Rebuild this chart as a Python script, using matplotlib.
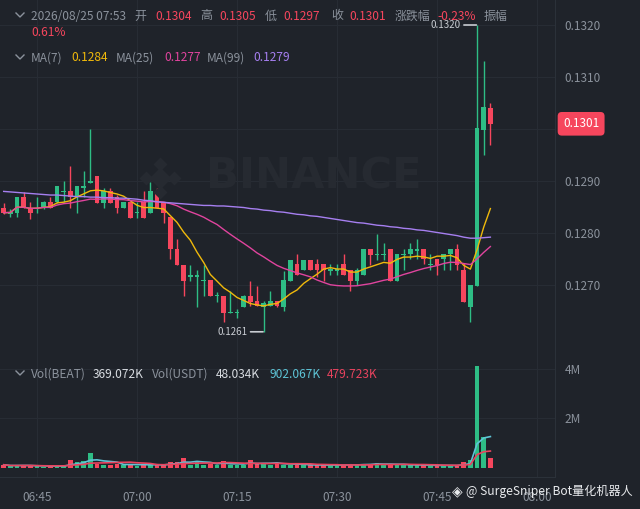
import numpy as np
import pandas as pd
import matplotlib
matplotlib.use('Agg')
import matplotlib.pyplot as plt
from matplotlib.lines import Line2D
from matplotlib.transforms import blended_transform_factory

plt.rcParams['font.family'] = ['Noto Sans CJK SC', 'DejaVu Sans']

# ---- data: 1 minute candles, 06:40 .. 07:53 (prices in units of 0.0001) ----
times = pd.date_range('2026-08-25 06:40', '2026-08-25 07:53', freq='1min')

opens = [1284.9, 1283.7, 1283.9, 1287.0, 1284.9, 1284.7, 1284.9, 1285.9, 1286.0, 1287.8,
         1288.0, 1286.9, 1288.7, 1289.7, 1291.0, 1285.8, 1288.0, 1287.0, 1284.9, 1286.0,
         1283.8, 1286.0, 1283.9, 1288.0, 1286.0, 1283.0, 1276.9, 1273.8, 1271.6, 1271.6,
         1270.8, 1271.0, 1267.8, 1267.9, 1264.6, 1264.6, 1265.8, 1267.9, 1266.9, 1265.8,
         1266.0, 1266.9, 1265.7, 1270.8, 1274.0, 1272.9, 1274.9, 1274.0, 1274.0, 1272.7,
         1272.7, 1274.0, 1272.9, 1270.8, 1271.9, 1277.0, 1275.7, 1275.7, 1277.0, 1270.8,
         1275.7, 1276.0, 1276.6, 1277.0, 1273.8, 1275.0, 1275.0, 1276.0, 1277.0, 1272.9,
         1265.8, 1269.8, 1299.8, 1304.0]
highs = [1285.8, 1284.7, 1287.0, 1287.9, 1285.9, 1286.9, 1286.2, 1287.0, 1289.0, 1290.0,
         1292.9, 1289.0, 1291.9, 1300.0, 1291.0, 1288.7, 1288.7, 1287.3, 1286.0, 1286.0,
         1286.0, 1288.0, 1289.9, 1288.6, 1286.0, 1283.0, 1278.8, 1273.8, 1273.8, 1272.9,
         1273.8, 1271.0, 1268.6, 1267.9, 1268.9, 1265.4, 1268.0, 1270.8, 1269.8, 1267.0,
         1268.9, 1266.9, 1272.6, 1274.9, 1276.0, 1274.9, 1274.9, 1275.0, 1274.0, 1274.0,
         1274.0, 1276.0, 1272.9, 1273.2, 1277.0, 1277.0, 1279.9, 1278.0, 1277.0, 1276.0,
         1277.0, 1278.0, 1278.9, 1277.0, 1276.0, 1275.0, 1276.0, 1277.0, 1277.9, 1274.2,
         1270.0, 1320.0, 1313.1, 1305.0]
lows = [1283.6, 1283.0, 1283.0, 1284.9, 1282.7, 1283.9, 1284.6, 1284.9, 1285.8, 1286.0,
        1284.9, 1283.9, 1286.9, 1289.7, 1285.8, 1284.9, 1285.8, 1283.9, 1284.9, 1282.8,
        1282.8, 1282.8, 1283.9, 1284.9, 1282.0, 1275.0, 1273.8, 1267.9, 1270.8, 1265.8,
        1267.8, 1267.8, 1266.7, 1262.9, 1264.6, 1263.6, 1265.8, 1266.0, 1266.0, 1261.0,
        1266.0, 1265.8, 1265.0, 1270.8, 1271.9, 1272.9, 1272.9, 1271.5, 1270.8, 1271.9,
        1271.9, 1271.9, 1268.9, 1270.0, 1271.9, 1273.8, 1274.8, 1274.8, 1270.8, 1270.8,
        1272.9, 1275.0, 1275.0, 1274.0, 1272.9, 1271.9, 1272.9, 1272.9, 1272.9, 1266.8,
        1262.8, 1269.8, 1295.0, 1297.0]
closes = [1283.9, 1284.0, 1287.0, 1284.9, 1283.9, 1284.9, 1285.9, 1284.9, 1289.0, 1288.0,
          1286.9, 1289.0, 1289.0, 1290.0, 1285.8, 1288.0, 1285.8, 1284.9, 1286.0, 1282.8,
          1284.0, 1282.8, 1288.0, 1284.9, 1283.9, 1276.9, 1273.8, 1270.8, 1271.9, 1271.9,
          1271.0, 1267.8, 1268.0, 1264.7, 1264.9, 1264.9, 1267.9, 1266.8, 1266.0, 1266.6,
          1266.9, 1266.0, 1271.0, 1274.9, 1271.9, 1274.9, 1272.9, 1272.9, 1272.9, 1273.0,
          1273.0, 1271.9, 1270.8, 1272.9, 1277.0, 1275.8, 1276.0, 1276.0, 1270.8, 1276.0,
          1276.0, 1277.0, 1277.0, 1275.0, 1274.0, 1273.8, 1276.0, 1277.0, 1273.8, 1266.8,
          1270.0, 1300.1, 1304.2, 1301.0]
volumes = [110e3, 50e3, 80e3, 90e3, 80e3, 50e3, 30e3, 50e3, 60e3, 80e3,
           320e3, 230e3, 280e3, 570e3, 150e3, 110e3, 110e3, 150e3, 90e3, 150e3,
           80e3, 110e3, 110e3, 110e3, 110e3, 230e3, 230e3, 400e3, 110e3, 270e3,
           110e3, 150e3, 110e3, 270e3, 110e3, 110e3, 110e3, 310e3, 160e3, 160e3,
           120e3, 200e3, 120e3, 120e3, 120e3, 90e3, 90e3, 90e3, 120e3, 90e3,
           90e3, 90e3, 160e3, 90e3, 160e3, 120e3, 200e3, 120e3, 90e3, 120e3,
           120e3, 90e3, 90e3, 90e3, 80e3, 80e3, 80e3, 80e3, 80e3, 230e3,
           320e3, 4.1e6, 1.24e6, 369072]
# MA(99) (not enough history on screen to compute it)
ma99 = [1288.0, 1287.9, 1287.8, 1287.7, 1287.6, 1287.5,
        1287.4, 1287.3, 1287.3, 1287.2, 1287.1, 1287.0,
        1287.0, 1286.9, 1286.9, 1286.8, 1286.8, 1286.7, 1286.7,
        1286.6, 1286.5, 1286.3, 1286.2, 1286.0,
        1285.9, 1285.8, 1285.7, 1285.6, 1285.5, 1285.4,
        1285.3, 1285.3, 1285.2, 1285.2, 1285.1, 1285.0,
        1284.9, 1284.7, 1284.6, 1284.4, 1284.3, 1284.1,
        1284.0, 1283.8, 1283.6, 1283.5, 1283.3, 1283.2, 1283.0, 1282.8,
        1282.6, 1282.4, 1282.2, 1282.0, 1281.9, 1281.7, 1281.5,
        1281.4, 1281.2, 1281.1, 1280.9, 1280.8, 1280.6, 1280.5, 1280.3,
        1280.1, 1279.9, 1279.7, 1279.5, 1279.2, 1279.0,
        1279.0, 1279.1, 1279.2]

time_ticks = ['06:45', '07:00', '07:15', '07:30', '07:45', '08:00']
price_ticks = [0.1270, 0.1280, 0.1290, 0.1300, 0.1310, 0.1320]

# ---- colours ----
BG = '#1f232a'
GRID = '#272c34'
SEP = '#2b3139'
TXT = '#8b929c'
UP = '#2ebd85'
DOWN = '#f6465d'

o = np.array(opens) / 1e4
h = np.array(highs) / 1e4
l = np.array(lows) / 1e4
c = np.array(closes) / 1e4
v = np.array(volumes) / 1e6
x = np.array((times - times[0]).total_seconds() / 60.0)
cols = np.where(c >= o, UP, DOWN)

ma7 = pd.Series(c).rolling(7, min_periods=1).mean()
ma25 = pd.Series(c).rolling(25, min_periods=1).mean()
vma5 = pd.Series(v).rolling(5, min_periods=1).mean()
vma10 = pd.Series(v).rolling(10, min_periods=1).mean()

W, H = 640, 509
fig = plt.figure(figsize=(W / 100, H / 100), dpi=100, facecolor=BG)


def fx(px):
    return px / W


def fy(py):
    return 1 - py / H


ax = fig.add_axes([0, fy(357), fx(555), 357 / H], facecolor=BG)
axv = fig.add_axes([0, fy(477), fx(555), 120 / H], facecolor=BG, sharex=ax)

x0 = -0.555
x1 = x0 + 555 / 6.667
ax.set_xlim(x0, x1)
ax.set_ylim(0.1320 - 332 / 52000, 0.1320 + 25 / 52000)
axv.set_ylim(-9.5 / 24.7, 110.5 / 24.7)

tick_x = [(pd.Timestamp('2026-08-25 ' + t) - times[0]).total_seconds() / 60 for t in time_ticks]

for a in (ax, axv):
    for s in ['left', 'top']:
        a.spines[s].set_visible(False)
    a.spines['right'].set_color(SEP)
    a.spines['bottom'].set_color(SEP)
    a.yaxis.tick_right()
    a.tick_params(length=0, colors=TXT, labelsize=8.5, pad=7)
    for tx in tick_x:
        a.axvline(tx, color=GRID, lw=0.8, zorder=0)

ax.set_yticks(price_ticks)
ax.set_yticklabels(['%.4f' % p for p in price_ticks])
ax.tick_params(axis='x', labelbottom=False)
for p in price_ticks:
    ax.axhline(p, color=GRID, lw=0.8, zorder=0)

axv.set_yticks([2, 4])
axv.set_yticklabels(['2M', '4M'])
axv.axhline(2, color=GRID, lw=0.8, zorder=0)
axv.axhline(4, color=GRID, lw=0.8, zorder=0)
axv.set_xticks(tick_x)
axv.set_xticklabels(time_ticks)
axv.tick_params(axis='x', pad=10)

# watermark
ax.text(0.565, 0.505, 'BINANCE', transform=ax.transAxes, fontsize=31, fontweight='bold',
        color='#262a31', ha='center', va='center', family='DejaVu Sans', zorder=0)
for dx, dy, s in [(0, 0, 11), (-14, 0, 7), (14, 0, 7), (0, -14, 7), (0, 14, 7)]:
    fig.add_artist(Line2D([fx(160 + dx)], [fy(178 + dy)], marker='D', ms=s, color='#262a31',
                          mec='none', lw=0))

# candles
ax.vlines(x, l, h, colors=cols, lw=1, zorder=2)
body = np.maximum(np.abs(c - o), 0.000002)
ax.bar(x, body, bottom=np.minimum(o, c), width=0.72, color=cols, zorder=3, lw=0)

ax.plot(x, ma7, color='#f0b90b', lw=1, zorder=4)
ax.plot(x, ma25, color='#e0449e', lw=1, zorder=4)
ax.plot(x, np.array(ma99) / 1e4, color='#a67ff0', lw=1, zorder=4)

# high / low markers
ih = int(np.argmax(h))
il = int(np.argmin(l))
for i, val in [(ih, h[ih]), (il, l[il])]:
    ax.annotate('%.4f' % val, xy=(x[i], val), xytext=(-11.5, 0), textcoords='offset points',
                ha='right', va='center', fontsize=7, color='#c8ccd2', zorder=6)
    ax.annotate('', xy=(x[i] - 0.1, val), xytext=(-9, 0), textcoords='offset points',
                arrowprops=dict(arrowstyle='-', color='#c8ccd2', lw=1.2,
                                shrinkA=0, shrinkB=0), zorder=6)

# current price box
tr = blended_transform_factory(ax.transAxes, ax.transData)
ax.text(1.0 + 8 / 555, c[-1], '%.4f' % c[-1], transform=tr, ha='left', va='center',
        fontsize=8.5, color='white', clip_on=False, zorder=10,
        bbox=dict(boxstyle='round,pad=0.45,rounding_size=0.35', fc=DOWN, ec='none'))

# volume
axv.bar(x, v, width=0.72, color=cols, lw=0, zorder=2)
axv.plot(x, vma5, color='#5ec4d6', lw=1.2, zorder=3)
axv.plot(x, vma10, color='#e8435e', lw=1.2, zorder=3)


# header texts
def put(px, py, s, color=TXT, size=8.6):
    fig.text(fx(px), fy(py), s, color=color, fontsize=size, va='center', ha='left')


def chevron(px, py):
    fig.add_artist(Line2D([fx(px - 4), fx(px), fx(px + 4)], [fy(py - 2), fy(py + 2), fy(py - 2)],
                          color=TXT, lw=1))


chevron(20, 15)
put(31, 16, '2026/08/25 07:53')
put(134, 16, '开')
put(155, 16, '0.1304', DOWN)
put(200, 16, '高')
put(219, 16, '0.1305', DOWN)
put(265, 16, '低')
put(283, 16, '0.1297', DOWN)
put(331, 16, '收')
put(349, 16, '0.1301', DOWN)
put(395, 16, '涨跌幅')
put(437, 16, '-0.23%', DOWN)
put(484, 16, '振幅')
put(31, 32, '0.61%', DOWN)

chevron(20, 57)
put(31, 58, 'MA(7)')
put(71, 58, '0.1284', '#f0b90b')
put(116, 58, 'MA(25)')
put(164, 58, '0.1277', '#e0449e')
put(207, 58, 'MA(99)')
put(253, 58, '0.1279', '#a67ff0')

chevron(20, 373)
put(31, 374, 'Vol(BEAT)')
put(93, 374, '369.072K', '#d8dce1')
put(152, 374, 'Vol(USDT)')
put(216, 374, '48.034K', '#d8dce1')
put(269, 374, '902.067K', '#5ec4d6')
put(327, 374, '479.723K', '#e8435e')

put(452, 491, '◈', '#e8eaed', 10)
put(466, 491, '@ SurgeSniper Bot量化机器人', '#e8eaed', 8.7)

fig.savefig('out.png', dpi=100, facecolor=BG)
